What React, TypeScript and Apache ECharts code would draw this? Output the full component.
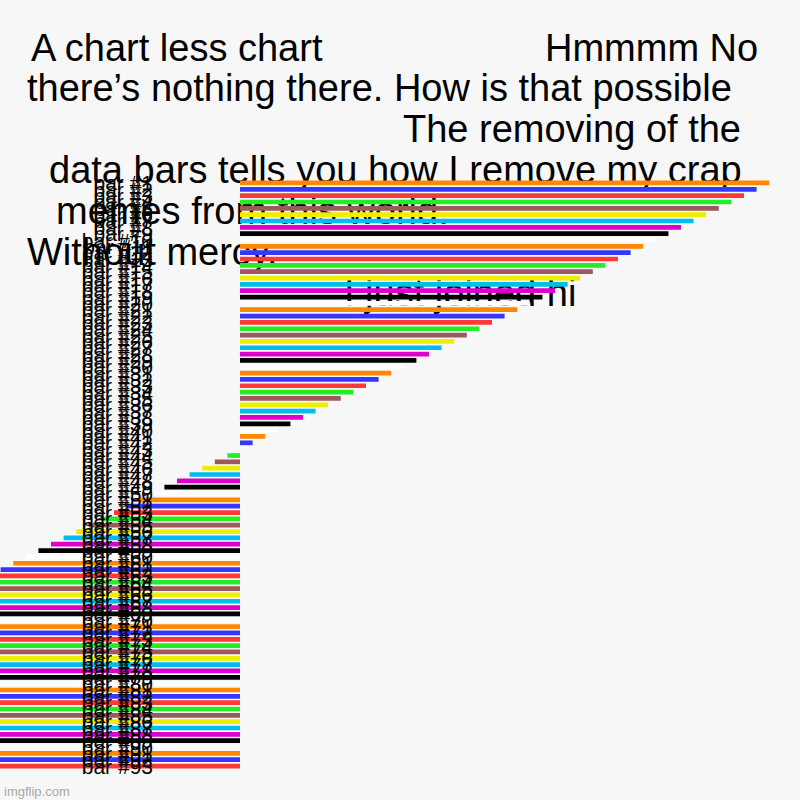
import React, { useEffect, useRef } from "react";
import * as echarts from "echarts";

const categories = [
  "bar #1", "bar #2", "bar #3", "bar #4", "bar #5", "bar #6", "bar #7", "bar #8", "bar #9", "bar #10",
  "bar #11", "bar #12", "bar #13", "bar #14", "bar #15", "bar #16", "bar #17", "bar #18", "bar #19", "bar #20",
  "bar #21", "bar #22", "bar #23", "bar #24", "bar #25", "bar #26", "bar #27", "bar #28", "bar #29", "bar #30",
  "bar #31", "bar #32", "bar #33", "bar #34", "bar #35", "bar #36", "bar #37", "bar #38", "bar #39", "bar #40",
  "bar #41", "bar #42", "bar #43", "bar #44", "bar #45", "bar #46", "bar #47", "bar #48", "bar #49", "bar #50",
  "bar #51", "bar #52", "bar #53", "bar #54", "bar #55", "bar #56", "bar #57", "bar #58", "bar #59", "bar #60",
  "bar #61", "bar #62", "bar #63", "bar #64", "bar #65", "bar #66", "bar #67", "bar #68", "bar #69", "bar #70",
  "bar #71", "bar #72", "bar #73", "bar #74", "bar #75", "bar #76", "bar #77", "bar #78", "bar #79", "bar #80",
  "bar #81", "bar #82", "bar #83", "bar #84", "bar #85", "bar #86", "bar #87", "bar #88", "bar #89", "bar #90",
  "bar #91", "bar #92", "bar #93",
];

const values = [
  42, 41, 40, 39, 38, 37, 36, 35, 34, 33,
  32, 31, 30, 29, 28, 27, 26, 25, 24, 23,
  22, 21, 20, 19, 18, 17, 16, 15, 14, 13,
  12, 11, 10, 9, 8, 7, 6, 5, 4, 3,
  2, 1, 0, -1, -2, -3, -4, -5, -6, -7,
  -8, -9, -10, -11, -12, -13, -14, -15, -16, -17,
  -18, -19, -20, -21, -22, -23, -24, -25, -26, -27,
  -28, -29, -30, -31, -32, -33, -34, -35, -36, -37,
  -38, -39, -40, -41, -42, -43, -44, -45, -46, -47,
  -48, -49, -50,
];

const barColors = [
  "#ff8800", "#3636ff", "#ff3838", "#22ee22", "#9c5a5a",
  "#eeee00", "#00bdee", "#dd00cc", "#000000", "#ffffff",
];

const titleLines = [
  "A chart less chart",
  "Hmmmm No",
  "there\u2019s nothing there. How is that possible",
  "The removing of the",
  "data bars tells you how I remove my crap",
  "memes from this world.",
  "Without mercy.",
];

const subtitleText = "I just joined hi";
const watermarkText = "imgflip.com";

const FONT = '"Liberation Sans", Arial, Helvetica, sans-serif';

export default function App() {
  const ref = useRef<HTMLDivElement>(null);

  useEffect(() => {
    if (!ref.current) return;
    const chart = echarts.init(ref.current, undefined, { renderer: "svg" });

    const titlePos = [
      [31, 48],
      [545, 48],
      [27, 88],
      [403, 129],
      [49, 170],
      [56, 211],
      [27, 252],
    ];

    const graphics: any[] = titleLines.map((t, i) => ({
      type: "text",
      z: 0,
      x: titlePos[i][0],
      y: titlePos[i][1],
      style: {
        text: t,
        fill: "#000",
        font: `38px ${FONT}`,
        align: "left",
        verticalAlign: "middle",
      },
    }));
    graphics.push({
      type: "text",
      z: 0,
      x: 344,
      y: 293,
      style: {
        text: subtitleText,
        fill: "#000",
        font: `38px ${FONT}`,
        align: "left",
        verticalAlign: "middle",
      },
    });
    graphics.push({
      type: "text",
      z: 0,
      x: 4,
      y: 791,
      style: {
        text: watermarkText,
        fill: "#a8a8a8",
        font: `13px ${FONT}`,
        align: "left",
        verticalAlign: "middle",
      },
    });

    const gridLeft = -390;
    const zeroX = 240;

    chart.setOption({
      animation: false,
      backgroundColor: "#f7f7f7",
      graphic: { elements: graphics },
      grid: {
        left: gridLeft,
        right: 30.8,
        top: 179.8,
        bottom: 30.8,
        containLabel: false,
        outerBoundsMode: "none",
      },
      xAxis: {
        type: "value",
        min: -50,
        max: 42,
        show: false,
        splitLine: { show: false },
      },
      yAxis: {
        type: "category",
        data: categories,
        inverse: true,
        position: "left",
        offset: gridLeft - zeroX,
        z: 10,
        axisLine: { show: false, onZero: false },
        axisTick: { show: false },
        splitLine: { show: false },
        axisLabel: {
          interval: 0,
          color: "#000",
          fontSize: 21,
          fontFamily: FONT,
          margin: 87,
        },
      },
      series: [
        {
          type: "bar",
          data: values,
          barWidth: 4.7,
          itemStyle: {
            color: (p: any) => barColors[p.dataIndex % barColors.length],
          },
        },
      ],
    });

    return () => chart.dispose();
  }, []);

  return (
    <div
      ref={ref}
      style={{ position: "fixed", left: 0, top: 0, width: 800, height: 800 }}
    />
  );
}
